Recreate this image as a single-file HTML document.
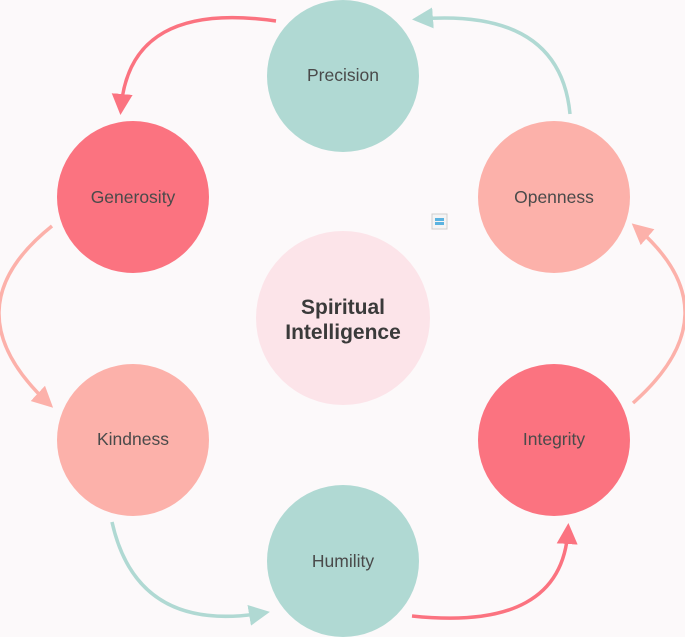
<!DOCTYPE html>
<html><head><meta charset="utf-8"><style>
html,body{margin:0;padding:0;background:#fcf9fa;}
svg{display:block;font-family:"Liberation Sans",Arial,sans-serif;}
</style></head><body>
<svg width="685" height="637" viewBox="0 0 685 637" xmlns="http://www.w3.org/2000/svg">
<defs>
<marker id="mr" markerWidth="6" markerHeight="6" refX="4" refY="3" orient="auto" markerUnits="strokeWidth"><path d="M0,0 L6,3 L0,6 Z" fill="#fb7380"/></marker>
<marker id="mt" markerWidth="6" markerHeight="6" refX="4" refY="3" orient="auto" markerUnits="strokeWidth"><path d="M0,0 L6,3 L0,6 Z" fill="#b0d9d3"/></marker>
<marker id="ms" markerWidth="6" markerHeight="6" refX="4" refY="3" orient="auto" markerUnits="strokeWidth"><path d="M0,0 L6,3 L0,6 Z" fill="#fcb1aa"/></marker>
</defs>
<rect width="685" height="637" fill="#fcf9fa"/>
<g fill="none" stroke-width="3.5">
<path d="M276,21 Q130,0 121,108" stroke="#fb7380" marker-end="url(#mr)"/>
<path d="M570,114 Q560,8 419,19" stroke="#b0d9d3" marker-end="url(#mt)"/>
<path d="M633,403 Q735,313 637,228" stroke="#fcb1aa" marker-end="url(#ms)"/>
<path d="M52,226 Q-52,309 48,403" stroke="#fcb1aa" marker-end="url(#ms)"/>
<path d="M412,616 Q562,632 568,530" stroke="#fb7380" marker-end="url(#mr)"/>
<path d="M112,522 Q137,634 263,613" stroke="#b0d9d3" marker-end="url(#mt)"/>
</g>
<circle cx="343" cy="76" r="76" fill="#b0d9d3"/>
<circle cx="133" cy="197" r="76" fill="#fb7380"/>
<circle cx="554" cy="197" r="76" fill="#fcb1aa"/>
<circle cx="133" cy="440" r="76" fill="#fcb1aa"/>
<circle cx="554" cy="440" r="76" fill="#fb7380"/>
<circle cx="343" cy="561" r="76" fill="#b0d9d3"/>
<ellipse cx="343" cy="318" rx="87" ry="87" fill="#fce4e9"/>
<g fill="#4a4a4a" font-size="17.5" text-anchor="middle">
<text x="343" y="81">Precision</text>
<text x="133" y="203">Generosity</text>
<text x="554" y="203">Openness</text>
<text x="133" y="445">Kindness</text>
<text x="554" y="445">Integrity</text>
<text x="343" y="567">Humility</text>
</g>
<g fill="#3a3a3a" font-size="21" font-weight="bold" text-anchor="middle">
<text x="343" y="314">Spiritual</text>
<text x="343" y="339">Intelligence</text>
</g>
<rect x="432" y="214" width="15" height="15" fill="#f4f4f4" stroke="#cfcfcf"/>
<rect x="435" y="218" width="9" height="3" fill="#5bb3e0"/>
<rect x="435" y="222" width="9" height="3" fill="#5bb3e0"/>
</svg>
</body></html>
